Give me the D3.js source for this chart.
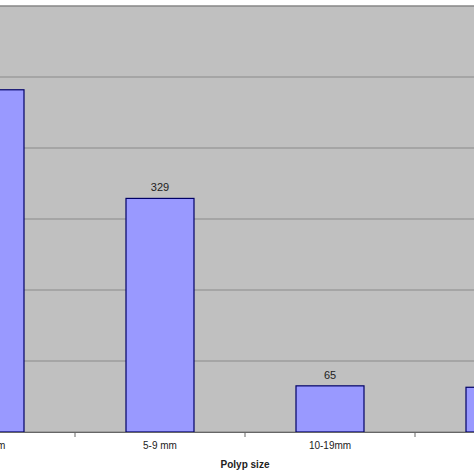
<!DOCTYPE html>
<html><head><meta charset="utf-8">
<script src="https://cdn.jsdelivr.net/npm/d3@7"></script>
<style>body{margin:0;background:#fff}svg{display:block}</style>
</head><body>
<svg id="c" width="474" height="474"></svg>
<script>
const categories = ["<5 mm", "5-9 mm", "10-19mm", ">=20mm"];
const values = [482, 329, 65, 63];
const yTicks = [0, 100, 200, 300, 400, 500, 600];

const svg = d3.select("#c");
const x = d3.scaleBand().domain(categories).range([-95, 585]).paddingInner(0.6).paddingOuter(0.3);
const y = d3.scaleLinear().domain([0, 600]).range([432, 6]);

svg.append("rect").attr("x", -95).attr("y", y(600)).attr("width", 680).attr("height", y(0) - y(600))
  .attr("fill", "#c0c0c0").attr("stroke", "#808080");
svg.append("g").selectAll("line").data(yTicks.slice(1)).join("line")
  .attr("x1", -95).attr("x2", 585).attr("y1", d => y(d)).attr("y2", d => y(d))
  .attr("stroke", "#8a8a8a").attr("stroke-width", 1);

svg.selectAll(".bar").data(values).join("rect")
  .attr("x", (d, i) => x(categories[i])).attr("width", x.bandwidth())
  .attr("y", d => y(d)).attr("height", d => y(0) - y(d))
  .attr("fill", "#9999ff").attr("stroke", "#000066").attr("stroke-width", 1.2);

svg.selectAll(".lbl").data(values).join("text")
  .attr("x", (d, i) => x(categories[i]) + x.bandwidth() / 2).attr("y", d => y(d) - 7)
  .attr("text-anchor", "middle").attr("font-family", "Liberation Sans, Arial, sans-serif")
  .attr("font-size", 11).attr("fill", "#222").text(d => d);

const ax = svg.append("g").attr("transform", "translate(0,432)")
  .call(d3.axisBottom(x).tickSize(0).tickPadding(10));
ax.select(".domain").attr("stroke", "#666");
ax.selectAll("text").attr("font-family", "Liberation Sans, Arial, sans-serif").attr("font-size", 10).attr("fill", "#222");
svg.append("g").selectAll("line").data(categories.slice(1)).join("line")
  .attr("x1", d => x(d) - x.step() * 0.3).attr("x2", d => x(d) - x.step() * 0.3)
  .attr("y1", 432).attr("y2", 437).attr("stroke", "#666");

svg.append("text").attr("x", 245).attr("y", 468).attr("text-anchor", "middle")
  .attr("font-family", "Liberation Sans, Arial, sans-serif").attr("font-size", 10)
  .attr("font-weight", "bold").attr("fill", "#222").text("Polyp size");
</script>
</body></html>
